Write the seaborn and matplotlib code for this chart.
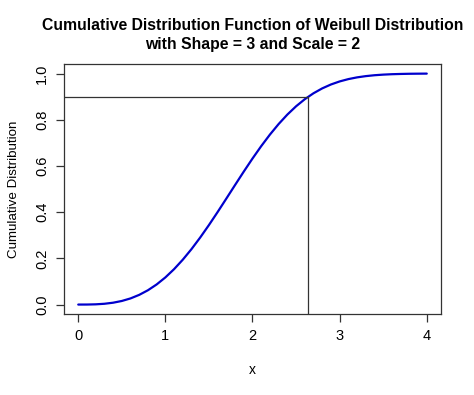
import matplotlib
matplotlib.use("Agg")
import matplotlib.pyplot as plt
import seaborn as sns
import pandas as pd

# values
x_vals = [0.0, 0.1, 0.2, 0.3, 0.4, 0.5, 0.6, 0.7, 0.8, 0.9, 1.0,
          1.1, 1.2, 1.3, 1.4, 1.5, 1.6, 1.7, 1.8, 1.9, 2.0,
          2.1, 2.2, 2.3, 2.4, 2.5, 2.6, 2.7, 2.8, 2.9, 3.0,
          3.1, 3.2, 3.3, 3.4, 3.5, 3.6, 3.7, 3.8, 3.9, 4.0]
cdf_vals = [0.0, 0.0001, 0.001, 0.0034, 0.008, 0.0155, 0.0266, 0.042, 0.062, 0.0871, 0.1175,
            0.1533, 0.1943, 0.2401, 0.2904, 0.3442, 0.4007, 0.4589, 0.5176, 0.5757, 0.6321,
            0.6858, 0.7358, 0.7815, 0.8224, 0.8582, 0.8889, 0.9146, 0.9357, 0.9526, 0.9658,
            0.9759, 0.9834, 0.9888, 0.9927, 0.9953, 0.9971, 0.9982, 0.999, 0.9994, 0.9997]
quantile_x = 2.64
quantile_p = 0.9
x_ticks = [0, 1, 2, 3, 4]
y_ticks = [0.0, 0.2, 0.4, 0.6, 0.8, 1.0]
y_tick_labels = ["0.0", "0.2", "0.4", "0.6", "0.8", "1.0"]

sns.set_style("white")
plt.rcParams['font.family'] = ['Liberation Sans', 'DejaVu Sans']
plt.rcParams['text.color'] = 'black'
plt.rcParams['axes.labelcolor'] = 'black'
plt.rcParams['xtick.color'] = 'black'
plt.rcParams['ytick.color'] = 'black'

df = pd.DataFrame({"x": x_vals, "cdf": cdf_vals})

fig = plt.figure(figsize=(4.74, 3.95), dpi=100)
ax = fig.add_axes([64.3 / 474, 1 - 313.8 / 395, (440.7 - 64.3) / 474, (313.8 - 64.3) / 395])

sns.lineplot(data=df, x="x", y="cdf", ax=ax, color="#0000CD", linewidth=1.6)

ax.set_xlim(-0.16, 4.16)
ax.set_ylim(-0.04, 1.04)

ax.plot([-0.16, quantile_x], [quantile_p, quantile_p], color="#333333", linewidth=0.9)
ax.plot([quantile_x, quantile_x], [-0.04, quantile_p], color="#333333", linewidth=0.9)

for s in ax.spines.values():
    s.set_color("#333333")
    s.set_linewidth(0.9)
    s.set_visible(True)

ax.set_xticks(x_ticks)
ax.set_xticklabels([str(t) for t in x_ticks])
ax.set_yticks(y_ticks)
ax.set_yticklabels(y_tick_labels, rotation=90, va="center")
ax.tick_params(axis="both", direction="out", length=6, width=0.9, color="#333333",
               labelcolor="black", labelsize=10.5, pad=5, left=True, bottom=True)

ax.set_xlabel("x", fontsize=10)
ax.set_ylabel("Cumulative Distribution", fontsize=9.6)
ax.xaxis.set_label_coords(0.5, -(370 - 313.8) / (313.8 - 64.3), transform=ax.transAxes)
ax.yaxis.set_label_coords(-(64.3 - 14) / (440.7 - 64.3), 0.5, transform=ax.transAxes)
ax.xaxis.label.set_va("center")
ax.yaxis.label.set_va("center")

cx = (64.3 + 440.7) / 2 / 474
fig.text(cx, 1 - 25 / 395, "Cumulative Distribution Function of Weibull Distribution",
         ha="center", va="center", fontsize=11.3, fontweight="bold")
fig.text(cx, 1 - 44 / 395, "with Shape = 3 and Scale = 2",
         ha="center", va="center", fontsize=11.3, fontweight="bold")

fig.savefig("out.png", dpi=100, facecolor="white")
